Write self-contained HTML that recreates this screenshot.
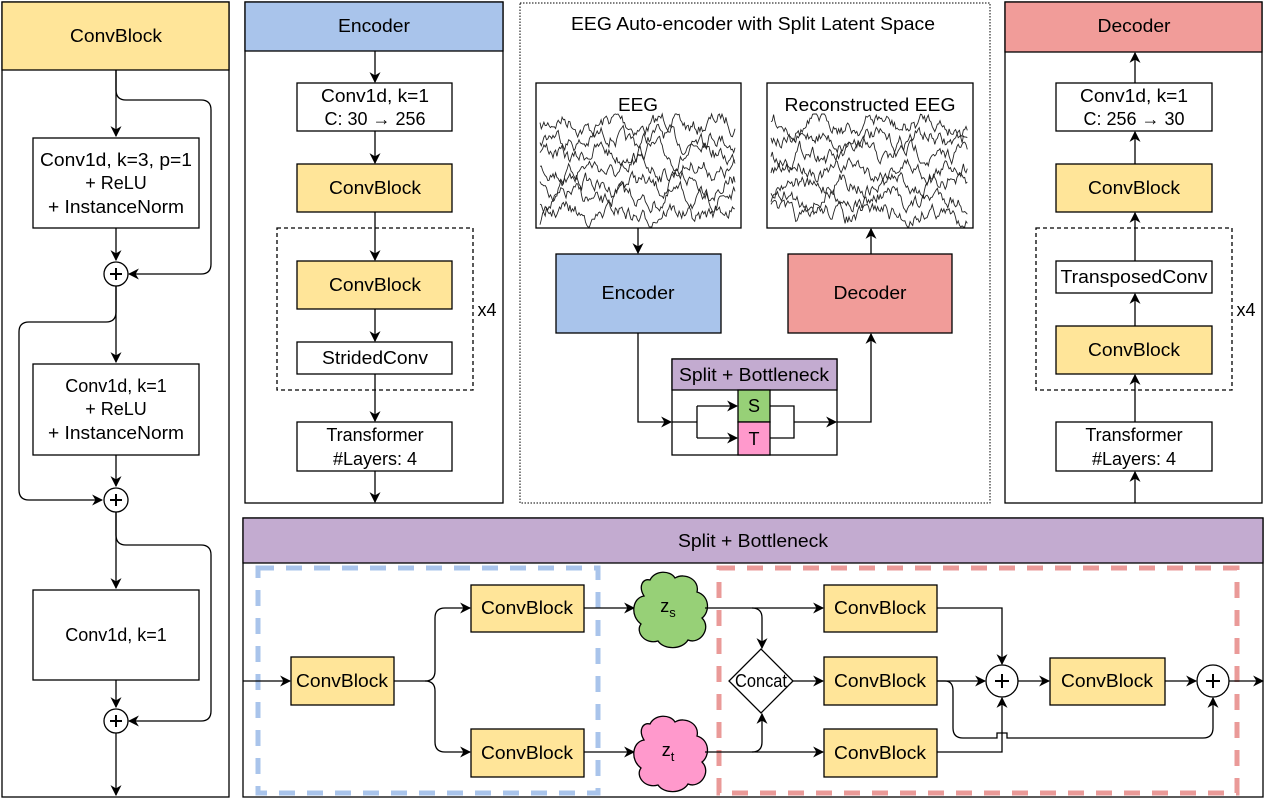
<!DOCTYPE html>
<html><head><meta charset="utf-8"><style>
html,body{margin:0;padding:0;background:#fff;}
svg{display:block;font-family:"Liberation Sans",sans-serif;}
text{font-size:18px;fill:#000;text-anchor:middle;dominant-baseline:central;}
</style></head><body>
<svg id="s" width="1266" height="800" viewBox="0 0 1266 800" xmlns="http://www.w3.org/2000/svg">
<defs>
<marker id="a" viewBox="0 0 10 10" refX="9" refY="5" markerWidth="11" markerHeight="11" markerUnits="userSpaceOnUse" orient="auto"><path d="M0,0 L10,5 L0,10 L3,5 z" fill="#000"/></marker>
</defs>
<g stroke="#000" stroke-width="1.3" fill="none">
<rect x="2" y="2" width="227" height="795" fill="#fff"/>
<rect x="2" y="2" width="227" height="68" fill="#FFE599"/>
<rect x="245" y="2" width="258" height="501" fill="#fff"/>
<rect x="245" y="2" width="258" height="49" fill="#A9C4EB"/>
<rect x="520" y="3" width="470" height="500" stroke-width="1" stroke-dasharray="1.5,1.5"/>
<rect x="1005" y="2" width="257" height="501" fill="#fff"/>
<rect x="1005" y="2" width="257" height="50" fill="#F19C99"/>
<rect x="243" y="518" width="1020" height="279" fill="#fff"/>
<rect x="243" y="518" width="1020" height="45" fill="#C3ABD0"/>
</g>
<text x="116" y="36" textLength="92" lengthAdjust="spacingAndGlyphs">ConvBlock</text>
<text x="374" y="26" textLength="72" lengthAdjust="spacingAndGlyphs">Encoder</text>
<text x="753" y="24" textLength="364" lengthAdjust="spacingAndGlyphs">EEG Auto-encoder with Split Latent Space</text>
<text x="1134" y="26" textLength="73" lengthAdjust="spacingAndGlyphs">Decoder</text>
<text x="753" y="541" textLength="150" lengthAdjust="spacingAndGlyphs">Split + Bottleneck</text>

<g stroke="#000" stroke-width="1.3" fill="none">
<path d="M116 70 V136" marker-end="url(#a)"/>
<path d="M116 70 V90 Q116 100 126 100 H201 Q211 100 211 110 V264 Q211 274 201 274 H129" marker-end="url(#a)"/>
<rect x="33" y="138" width="166" height="90" fill="#fff"/>
<path d="M116 228 V260" marker-end="url(#a)"/>
<circle cx="116" cy="274" r="12" fill="#fff"/>
<path d="M110 274 H122 M116 268 V280" stroke-width="2"/>
<path d="M116 286 V362" marker-end="url(#a)"/>
<path d="M116 286 V312 Q116 322 106 322 H29 Q19 322 19 332 V490 Q19 500 29 500 H102" marker-end="url(#a)"/>
<rect x="33" y="364" width="166" height="91" fill="#fff"/>
<path d="M116 455 V486" marker-end="url(#a)"/>
<circle cx="116" cy="500" r="12" fill="#fff"/>
<path d="M110 500 H122 M116 494 V506" stroke-width="2"/>
<path d="M116 512 V588" marker-end="url(#a)"/>
<path d="M116 512 V535 Q116 545 126 545 H201 Q211 545 211 555 V711 Q211 721 201 721 H129" marker-end="url(#a)"/>
<rect x="33" y="590" width="166" height="90" fill="#fff"/>
<path d="M116 680 V707" marker-end="url(#a)"/>
<circle cx="116" cy="721" r="12" fill="#fff"/>
<path d="M110 721 H122 M116 715 V727" stroke-width="2"/>
<path d="M116 733 V795" marker-end="url(#a)"/>
</g>
<text x="116" y="160" textLength="152" lengthAdjust="spacingAndGlyphs">Conv1d, k=3, p=1</text>
<text x="116" y="183">+ ReLU</text>
<text x="116" y="207" textLength="136" lengthAdjust="spacingAndGlyphs">+ InstanceNorm</text>
<text x="116" y="386">Conv1d, k=1</text>
<text x="116" y="409">+ ReLU</text>
<text x="116" y="433" textLength="136" lengthAdjust="spacingAndGlyphs">+ InstanceNorm</text>
<text x="116" y="635">Conv1d, k=1</text>

<g stroke="#000" stroke-width="1.3" fill="none">
<path d="M375 51 V82" marker-end="url(#a)"/>
<rect x="297" y="83" width="155" height="48" fill="#fff"/>
<path d="M375 131 V163" marker-end="url(#a)"/>
<rect x="297" y="164" width="155" height="48" fill="#FFE599"/>
<rect x="277" y="228" width="196" height="162" stroke-dasharray="4,3"/>
<path d="M375 212 V260" marker-end="url(#a)"/>
<rect x="297" y="261" width="155" height="48" fill="#FFE599"/>
<path d="M375 309 V341" marker-end="url(#a)"/>
<rect x="297" y="342" width="155" height="32" fill="#fff"/>
<path d="M375 374 V421" marker-end="url(#a)"/>
<rect x="297" y="422" width="155" height="49" fill="#fff"/>
<path d="M375 471 V502" marker-end="url(#a)"/>
</g>
<text x="375" y="96" textLength="108" lengthAdjust="spacingAndGlyphs">Conv1d, k=1</text>
<text x="375" y="119">C: 30 → 256</text>
<text x="375" y="188" textLength="92" lengthAdjust="spacingAndGlyphs">ConvBlock</text>
<text x="375" y="285" textLength="92" lengthAdjust="spacingAndGlyphs">ConvBlock</text>
<text x="375" y="358" textLength="106" lengthAdjust="spacingAndGlyphs">StridedConv</text>
<text x="375" y="435">Transformer</text>
<text x="375" y="459">#Layers: 4</text>
<text x="487" y="310">x4</text>

<g stroke="#000" stroke-width="1.3" fill="none">
<path d="M1135 83 V53" marker-end="url(#a)"/>
<rect x="1056" y="83" width="156" height="48" fill="#fff"/>
<path d="M1135 164 V132" marker-end="url(#a)"/>
<rect x="1056" y="164" width="156" height="48" fill="#FFE599"/>
<rect x="1036" y="228" width="196" height="162" stroke-dasharray="4,3"/>
<path d="M1135 261 V213" marker-end="url(#a)"/>
<rect x="1056" y="261" width="156" height="32" fill="#fff"/>
<path d="M1135 326 V294" marker-end="url(#a)"/>
<rect x="1056" y="326" width="156" height="48" fill="#FFE599"/>
<path d="M1135 422 V375" marker-end="url(#a)"/>
<rect x="1056" y="422" width="156" height="49" fill="#fff"/>
<path d="M1135 503 V472" marker-end="url(#a)"/>
</g>
<text x="1134" y="96" textLength="108" lengthAdjust="spacingAndGlyphs">Conv1d, k=1</text>
<text x="1134" y="119">C: 256 → 30</text>
<text x="1134" y="188" textLength="92" lengthAdjust="spacingAndGlyphs">ConvBlock</text>
<text x="1134" y="277" textLength="147" lengthAdjust="spacingAndGlyphs">TransposedConv</text>
<text x="1134" y="350" textLength="92" lengthAdjust="spacingAndGlyphs">ConvBlock</text>
<text x="1134" y="435">Transformer</text>
<text x="1134" y="459">#Layers: 4</text>
<text x="1246" y="310">x4</text>

<g stroke="#000" stroke-width="1.3" fill="none">
<rect x="536" y="83" width="205" height="145" fill="#fff"/>
<rect x="767" y="83" width="206" height="145" fill="#fff"/>
<g id="eeg1" stroke="#222" stroke-width="0.9"></g>
<g id="eeg2" stroke="#222" stroke-width="0.9"></g>
<path d="M638 228 V253" marker-end="url(#a)"/>
<rect x="556" y="254" width="165" height="79" fill="#A9C4EB"/>
<path d="M871 254 V229" marker-end="url(#a)"/>
<rect x="788" y="254" width="164" height="79" fill="#F19C99"/>
<rect x="672" y="359" width="165" height="96" fill="#fff"/>
<rect x="672" y="359" width="165" height="31" fill="#C3ABD0"/>
<rect x="738" y="390" width="32" height="32" fill="#97D077"/>
<rect x="738" y="422" width="32" height="33" fill="#FF99CC"/>
<path d="M638 333 V422 H671" marker-end="url(#a)"/>
<path d="M672 422 H697 M697 406 V438"/>
<path d="M697 406 H737" marker-end="url(#a)"/>
<path d="M697 438 H737" marker-end="url(#a)"/>
<path d="M770 406 H794 V438 H770 M794 422 H836" marker-end="url(#a)"/>
<path d="M837 422 H871 V334" marker-end="url(#a)"/>
</g>
<text x="638" y="105" textLength="40" lengthAdjust="spacingAndGlyphs">EEG</text>
<text x="870" y="105" textLength="171" lengthAdjust="spacingAndGlyphs">Reconstructed EEG</text>
<text x="638" y="293" textLength="73" lengthAdjust="spacingAndGlyphs">Encoder</text>
<text x="870" y="293" textLength="73" lengthAdjust="spacingAndGlyphs">Decoder</text>
<text x="754" y="375" textLength="150" lengthAdjust="spacingAndGlyphs">Split + Bottleneck</text>
<text x="754" y="406" font-size="19">S</text>
<text x="754" y="439" font-size="19">T</text>

<g stroke-width="5" fill="none" stroke-dasharray="16,12">
<rect x="258" y="568" width="340" height="225" stroke="#A9C4EB"/>
<rect x="719" y="568" width="518" height="225" stroke="#EA9A98"/>
</g>
<g stroke="#000" stroke-width="1.3" fill="none">
<path d="M243 681 H290" marker-end="url(#a)"/>
<rect x="291" y="657" width="103" height="48" fill="#FFE599"/>
<path d="M394 681 H425 Q435 681 435 671 V618 Q435 608 445 608 H470" marker-end="url(#a)"/>
<path d="M425 681 Q435 681 435 691 V742 Q435 752 445 752 H470" marker-end="url(#a)"/>
<rect x="471" y="585" width="113" height="47" fill="#FFE599"/>
<rect x="471" y="729" width="113" height="48" fill="#FFE599"/>
<path d="M584 608 H634" marker-end="url(#a)"/>
<path d="M584 752 H634" marker-end="url(#a)"/>
<path d="M650 580 C655 570 670 570 675 578 C685 572 700 580 697 592 C710 596 710 612 702 618 C712 628 700 645 688 640 C682 650 664 650 658 641 C645 645 635 632 641 624 C630 616 632 598 644 596 C638 586 643 578 650 580 Z" fill="#97D077"/>
<path d="M650 724 C655 714 670 714 675 722 C685 716 700 724 697 736 C710 740 710 756 702 762 C712 772 700 789 688 784 C682 794 664 794 658 785 C645 789 635 776 641 768 C630 760 632 742 644 740 C638 730 643 722 650 724 Z" fill="#FF99CC"/>
<path d="M705 608 H823" marker-end="url(#a)"/>
<path d="M705 752 H823" marker-end="url(#a)"/>
<path d="M752 608 Q762 608 762 618 V648" marker-end="url(#a)"/>
<path d="M752 752 Q762 752 762 742 V714" marker-end="url(#a)"/>
<path d="M761 649 L793 681 L761 713 L729 681 Z" fill="#fff"/>
<path d="M793 681 H823" marker-end="url(#a)"/>
<rect x="824" y="585" width="113" height="47" fill="#FFE599"/>
<rect x="824" y="657" width="113" height="48" fill="#FFE599"/>
<rect x="824" y="729" width="113" height="48" fill="#FFE599"/>
<path d="M937 608 H1002 V664" marker-end="url(#a)"/>
<path d="M937 752 H1002 V698" marker-end="url(#a)"/>
<path d="M937 681 H985" marker-end="url(#a)"/>
<path d="M937 681 H945 Q953 681 953 691 V728 Q953 738 963 738 H997 V733 H1007 V738 H1203 Q1213 738 1213 728 V698" marker-end="url(#a)"/>
<circle cx="1002" cy="681" r="16" fill="#fff"/>
<path d="M995 681 H1009 M1002 674 V688" stroke-width="2"/>
<path d="M1018 681 H1049" marker-end="url(#a)"/>
<rect x="1050" y="658" width="115" height="47" fill="#FFE599"/>
<path d="M1165 681 H1196" marker-end="url(#a)"/>
<circle cx="1213" cy="681" r="16" fill="#fff"/>
<path d="M1206 681 H1220 M1213 674 V688" stroke-width="2"/>
<path d="M1229 681 H1263" marker-end="url(#a)"/>
</g>
<text x="342" y="681" textLength="92" lengthAdjust="spacingAndGlyphs">ConvBlock</text>
<text x="527" y="608" textLength="92" lengthAdjust="spacingAndGlyphs">ConvBlock</text>
<text x="527" y="753" textLength="92" lengthAdjust="spacingAndGlyphs">ConvBlock</text>
<text x="668" y="606" font-size="19">z<tspan font-size="13" dy="6">s</tspan></text>
<text x="668" y="750" font-size="19">z<tspan font-size="13" dy="6">t</tspan></text>
<text x="761" y="681" font-size="14" textLength="52" lengthAdjust="spacingAndGlyphs">Concat</text>
<text x="880" y="608" textLength="92" lengthAdjust="spacingAndGlyphs">ConvBlock</text>
<text x="880" y="681" textLength="92" lengthAdjust="spacingAndGlyphs">ConvBlock</text>
<text x="880" y="753" textLength="92" lengthAdjust="spacingAndGlyphs">ConvBlock</text>
<text x="1107" y="681" textLength="92" lengthAdjust="spacingAndGlyphs">ConvBlock</text>
<script>
(function(){
  var seed=7;function r(){seed=(seed*16807)%2147483647;return seed/2147483647;}
  function fill(id,x0,x1){
    var g=document.getElementById(id),ns="http://www.w3.org/2000/svg";
    for(var k=0;k<7;k++){
      var base=124+k*15,d="",v=0;
      for(var x=x0;x<=x1;x+=1.3){v=v*0.75+(r()-0.5)*12;var y=base+v+Math.sin(x*0.12+k)*5;
        y=Math.max(114,Math.min(227,y));d+=(x==x0?"M":"L")+x.toFixed(1)+" "+y.toFixed(1)+" ";}
      var p=document.createElementNS(ns,"path");p.setAttribute("d",d);g.appendChild(p);
    }
  }
  fill("eeg1",540,736);fill("eeg2",771,968);
})();
</script>
</svg>
</body></html>
